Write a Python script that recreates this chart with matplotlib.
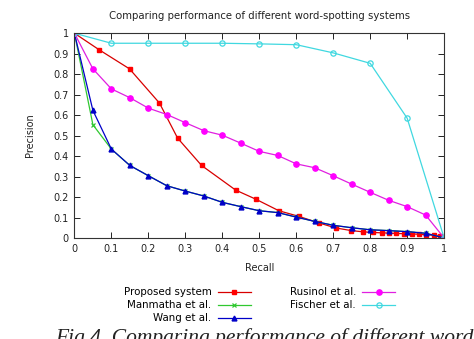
import matplotlib
matplotlib.use("Agg")
import matplotlib.pyplot as plt

# precision/recall curves
proposed_x = [0, 0.067, 0.149, 0.23, 0.279, 0.344, 0.436, 0.49, 0.553, 0.608, 0.662,
              0.707, 0.749, 0.781, 0.808, 0.831, 0.851, 0.871, 0.891, 0.912, 0.933,
              0.952, 0.972, 0.988, 1.0]
proposed_y = [1, 0.919, 0.826, 0.659, 0.488, 0.354, 0.234, 0.19, 0.133, 0.105, 0.073,
              0.049, 0.036, 0.03, 0.027, 0.025, 0.024, 0.022, 0.021, 0.02, 0.018,
              0.016, 0.013, 0.01, 0.005]

manmatha_x = [0, 0.05, 0.1, 0.15, 0.2, 0.25, 0.3, 0.35, 0.4, 0.45, 0.5, 0.55, 0.6,
              0.65, 0.7, 0.75, 0.8, 0.85, 0.9, 0.95, 1.0]
manmatha_y = [1, 0.553, 0.434, 0.354, 0.304, 0.255, 0.229, 0.205, 0.174, 0.153, 0.133,
              0.124, 0.102, 0.081, 0.062, 0.05, 0.04, 0.036, 0.031, 0.023, 0.0]

wang_x = [0, 0.05, 0.1, 0.15, 0.2, 0.25, 0.3, 0.35, 0.4, 0.45, 0.5, 0.55, 0.6,
          0.65, 0.7, 0.75, 0.8, 0.85, 0.9, 0.95, 1.0]
wang_y = [1, 0.623, 0.434, 0.354, 0.304, 0.255, 0.229, 0.205, 0.174, 0.153, 0.133,
          0.124, 0.102, 0.081, 0.062, 0.05, 0.04, 0.036, 0.031, 0.023, 0.0]

rusinol_x = [0, 0.05, 0.1, 0.15, 0.2, 0.25, 0.3, 0.35, 0.4, 0.45, 0.5, 0.55, 0.6,
             0.65, 0.7, 0.75, 0.8, 0.85, 0.9, 0.95, 1.0]
rusinol_y = [1, 0.826, 0.728, 0.685, 0.634, 0.603, 0.563, 0.524, 0.502, 0.463, 0.423,
             0.403, 0.362, 0.343, 0.304, 0.263, 0.223, 0.184, 0.153, 0.112, 0.0]

fischer_x = [0, 0.1, 0.2, 0.3, 0.4, 0.5, 0.6, 0.7, 0.8, 0.9, 1.0]
fischer_y = [1, 0.951, 0.951, 0.951, 0.951, 0.948, 0.944, 0.904, 0.853, 0.585, 0.0]

ticks = [0, 0.1, 0.2, 0.3, 0.4, 0.5, 0.6, 0.7, 0.8, 0.9, 1]
tick_labels = ["0", "0.1", "0.2", "0.3", "0.4", "0.5", "0.6", "0.7", "0.8", "0.9", "1"]

plt.rcParams["font.family"] = "DejaVu Sans"

fig = plt.figure(figsize=(4.74, 3.39), dpi=100)
ax = fig.add_axes([0.157, 0.298, 0.78, 0.604])

ax.plot(proposed_x, proposed_y, color="#d80000", marker="s", markersize=3.5,
        markerfacecolor="#ff0000", markeredgecolor="#ff0000", lw=0.9, label="Proposed system")
ax.plot(manmatha_x, manmatha_y, color="#30c830", marker="x", markersize=3.5,
        mew=0.9, lw=0.9, label="Manmatha et al.")
ax.plot(wang_x, wang_y, color="#0000c8", marker="^", markersize=3.5,
        lw=0.9, label="Wang et al.")
ax.plot(rusinol_x, rusinol_y, color="#e020e0", marker="o", markersize=3.8,
        markerfacecolor="#ff00ff", markeredgecolor="#ff00ff", lw=0.9, label="Rusinol et al.")
ax.plot(fischer_x, fischer_y, color="#40d8e0", marker="o", markersize=3.8,
        markerfacecolor="none", mew=0.9, lw=0.9, label="Fischer et al.")

ax.set_xlim(0, 1)
ax.set_ylim(0, 1)
ax.set_xticks(ticks)
ax.set_xticklabels(tick_labels)
ax.set_yticks(ticks)
ax.set_yticklabels(tick_labels)
ax.tick_params(direction="in", length=4, width=0.7, top=True, right=True,
               labelsize=7, colors="#222222", pad=4)
for s in ax.spines.values():
    s.set_linewidth(0.8)
    s.set_color("#333333")

ax.set_title("Comparing performance of different word-spotting systems",
             fontsize=7.3, color="#222222", pad=10)
ax.set_xlabel("Recall", fontsize=7, color="#222222", labelpad=7)
ax.set_ylabel("Precision", fontsize=7, color="#222222", labelpad=13)

ax.legend(loc="upper center", bbox_to_anchor=(0.5, -0.215), ncol=2, frameon=False,
          markerfirst=False, fontsize=7.4, handlelength=3.2, labelspacing=0.3,
          columnspacing=3.8, handletextpad=0.6, borderpad=0)

fig.text(0.116, -0.012, "Fig.4. Comparing performance of different word-spotting systems",
         fontsize=15.5, style="italic", family="Liberation Serif", color="#222222",
         ha="left", va="baseline")

fig.savefig("out.png", dpi=100)
